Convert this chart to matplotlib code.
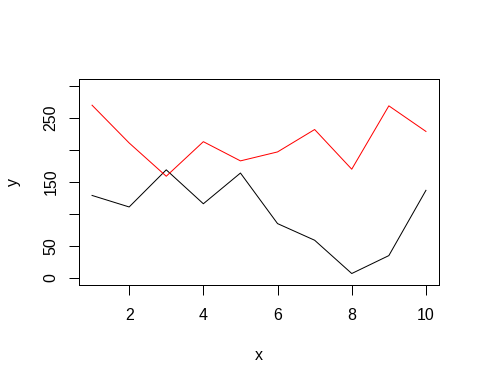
import numpy as np
import matplotlib
matplotlib.use("Agg")
import matplotlib.pyplot as plt

x = [1, 2, 3, 4, 5, 6, 7, 8, 9, 10]
y_black = [129, 111, 169, 116, 164, 85, 59, 7, 35, 137]
y_red = [270, 211, 159, 213, 183, 197, 232, 170, 269, 229]

x_ticks = [2, 4, 6, 8, 10]
y_ticks = [0, 50, 100, 150, 200, 250, 300]
y_tick_labels = ["0", "50", "", "150", "", "250", ""]

# Plot ..........................................................................

plt.rcParams["font.family"] = ["Liberation Sans", "DejaVu Sans"]

fig = plt.figure(figsize=(480 / 72, 384 / 72), dpi=72)
ax = fig.add_axes([78.7 / 480, 1 - 285.3 / 384, (439.3 - 78.7) / 480, (285.3 - 78.7) / 384])

ax.plot(x, y_black, color="black", linewidth=1)
ax.plot(x, y_red, color="red", linewidth=1)

ax.set_xlim(1 - 0.36, 10 + 0.36)
ax.set_ylim(-11.4, 311.4)

ax.set_xticks(x_ticks)
ax.set_yticks(y_ticks)
ax.set_yticklabels(y_tick_labels, rotation=90, va="center")
ax.tick_params(axis="both", direction="out", length=10, width=1, labelsize=16, color="black")
ax.tick_params(axis="x", pad=13)
ax.tick_params(axis="y", pad=10)

for s in ax.spines.values():
    s.set_linewidth(1)
    s.set_color("black")

ax.set_xlabel("x", fontsize=16, labelpad=25)
ax.set_ylabel("y", fontsize=16, labelpad=23)

fig.savefig("out.png", dpi=72)
